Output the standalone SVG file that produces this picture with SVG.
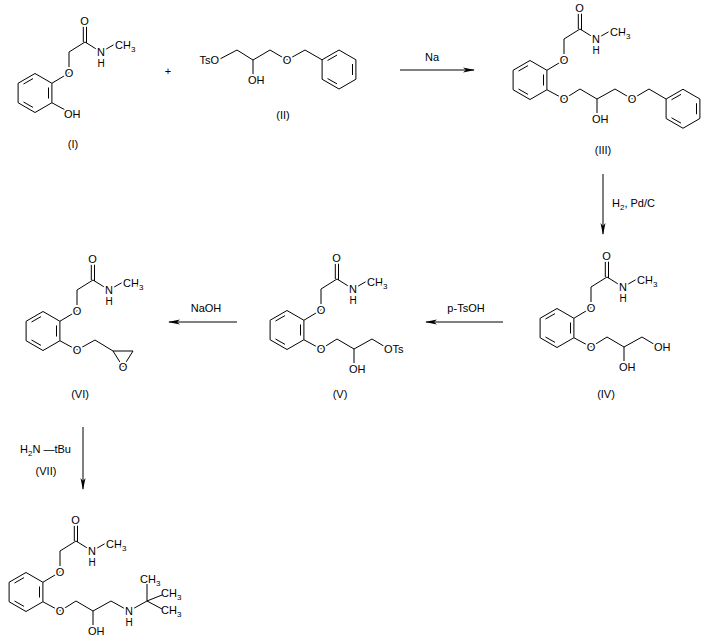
<svg xmlns="http://www.w3.org/2000/svg" xmlns:xlink="http://www.w3.org/1999/xlink" width="713" height="644" viewBox="0 0 713 644">
<style>
line,path,polyline{stroke:#000;stroke-width:1;fill:none}
text{font-family:"Liberation Sans",Arial,sans-serif;font-size:11px;fill:#000;stroke:#fff;stroke-width:4px;paint-order:stroke;stroke-linejoin:round}
.c{text-anchor:middle}
.s{font-size:8px}
.lbl{stroke:none}
.h{font-size:10px}
</style>
<defs>
<marker id="ah" markerWidth="12" markerHeight="6" refX="11" refY="3" orient="auto" markerUnits="userSpaceOnUse">
<path d="M0,0.5 L12,3 L0,5.5 L3,3 Z" style="fill:#000;stroke:none"/>
</marker>
<g id="benz">
<path d="M0,-19.5 L16.9,-9.75 L16.9,9.75 L0,19.5 L-16.9,9.75 L-16.9,-9.75 Z"/>
<line x1="-11.5" y1="-9" x2="-2" y2="-14.4"/>
<line x1="13.5" y1="-5.5" x2="13.5" y2="5.5"/>
<line x1="-2" y1="14.4" x2="-11.5" y2="9"/>
</g>
<g id="core">
<use xlink:href="#benz"/>
<polyline points="16.9,-9.75 34,-20 34,-41 50,-51 66,-41 80,-49"/>
<line x1="48.3" y1="-51" x2="48.3" y2="-71"/>
<line x1="51.5" y1="-50" x2="51.5" y2="-71"/>
<line x1="16.9" y1="9.75" x2="34" y2="19"/>
<text x="34" y="-16" class="c">O</text>
<text x="49.5" y="-68" class="c">O</text>
<text x="66" y="-37" class="c">N</text>
<text x="66" y="-26" class="c lbl h">H</text>
<text x="80" y="-44">CH<tspan class="s" dy="3">3</tspan></text>
</g>
<g id="tail">
<polyline points="34,19 50,9 67,19 85,9"/>
<line x1="67" y1="19" x2="67" y2="38"/>
<text x="34" y="23" class="c">O</text>
<text x="62" y="43">OH</text>
</g>
</defs>

<g id="cmpd-I">
<use xlink:href="#core" transform="translate(35,93)"/>
<text x="64" y="118">OH</text>
<text x="73" y="148" class="c lbl">(I)</text>
</g>

<g id="plus"><text x="168" y="75" class="c lbl">+</text></g>

<g id="cmpd-II">
<polyline points="218,60 237,50 253,60 270,50 287,60 305,50 322,59.75"/>
<line x1="253" y1="60" x2="253" y2="79"/>
<text x="219" y="64" style="text-anchor:end">TsO</text>
<text x="248" y="84">OH</text>
<text x="287" y="64" class="c">O</text>
<use xlink:href="#benz" transform="translate(339,69.5)"/>
<text x="283" y="119" class="c lbl">(II)</text>
</g>

<g id="cmpd-III">
<use xlink:href="#core" transform="translate(530,80)"/>
<use xlink:href="#tail" transform="translate(530,80)"/>
<polyline points="615,89 632,99 649,89 666,99"/>
<text x="632" y="103" class="c">O</text>
<use xlink:href="#benz" transform="translate(683,108.75)"/>
<text x="603" y="154" class="c lbl">(III)</text>
</g>

<g id="cmpd-IV">
<use xlink:href="#core" transform="translate(557,328)"/>
<use xlink:href="#tail" transform="translate(557,328)"/>
<line x1="642" y1="337" x2="657" y2="346"/>
<text x="654" y="351">OH</text>
<text x="606" y="398" class="c lbl">(IV)</text>
</g>

<g id="cmpd-V">
<use xlink:href="#core" transform="translate(287,330)"/>
<use xlink:href="#tail" transform="translate(287,330)"/>
<line x1="372" y1="339" x2="387" y2="348"/>
<text x="384" y="353">OTs</text>
<text x="340" y="398" class="c lbl">(V)</text>
</g>

<g id="cmpd-VI">
<use xlink:href="#core" transform="translate(43,331)"/>
<polyline points="77,350 95,340 113,351 133,351"/>
<line x1="113" y1="351" x2="123" y2="367"/>
<line x1="133" y1="351" x2="123" y2="367"/>
<text x="77" y="354" class="c">O</text>
<text x="123" y="371" class="c">O</text>
<text x="80" y="398" class="c lbl">(VI)</text>
</g>

<g id="cmpd-final">
<use xlink:href="#core" transform="translate(26,592)"/>
<use xlink:href="#tail" transform="translate(26,592)"/>
<polyline points="111,601 129,611 147,601"/>
<line x1="147" y1="601" x2="147" y2="584"/>
<line x1="147" y1="601" x2="162" y2="595"/>
<line x1="147" y1="601" x2="162" y2="609"/>
<text x="129" y="615" class="c">N</text>
<text x="129" y="626" class="c lbl h">H</text>
<text x="140" y="583" class="lbl">CH<tspan class="s" dy="3">3</tspan></text>
<text x="161" y="597" class="lbl">CH<tspan class="s" dy="3">3</tspan></text>
<text x="161" y="614" class="lbl">CH<tspan class="s" dy="3">3</tspan></text>
</g>

<g id="connectors">
<line x1="400" y1="70" x2="474" y2="70" marker-end="url(#ah)"/>
<line x1="603" y1="174" x2="603" y2="234" marker-end="url(#ah)"/>
<line x1="503" y1="322" x2="426" y2="322" marker-end="url(#ah)"/>
<line x1="237" y1="322" x2="169" y2="322" marker-end="url(#ah)"/>
<line x1="83" y1="427" x2="83" y2="489" marker-end="url(#ah)"/>
<text x="432" y="61" class="c lbl">Na</text>
<text x="612" y="207" class="lbl">H<tspan class="s" dy="3">2</tspan><tspan dy="-3">, Pd/C</tspan></text>
<text x="466" y="312" class="c lbl">p-TsOH</text>
<text x="206" y="312" class="c lbl">NaOH</text>
<text x="20" y="453" class="lbl">H<tspan class="s" dy="3">2</tspan><tspan dy="-3">N —tBu</tspan></text>
<text x="46" y="475" class="c lbl">(VII)</text>
</g>
</svg>
